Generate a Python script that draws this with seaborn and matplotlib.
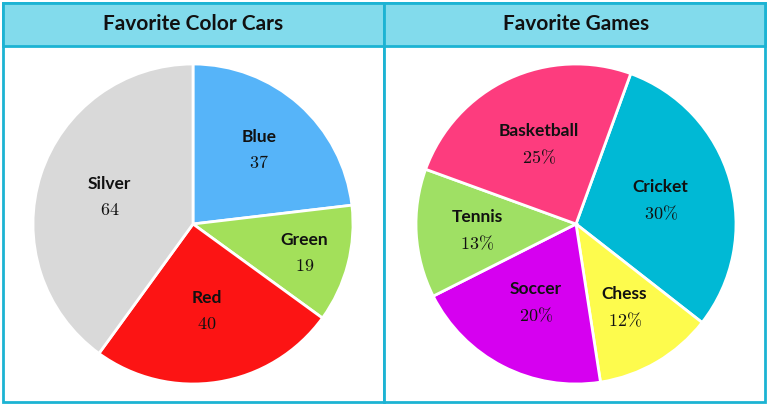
import matplotlib
matplotlib.use("Agg")
import matplotlib.pyplot as plt
import seaborn as sns
import numpy as np
from matplotlib.patches import Rectangle

sns.set_theme(style="white")
plt.rcParams['font.family'] = ['Lato', 'DejaVu Sans']
plt.rcParams['mathtext.fontset'] = 'cm'

car_labels = ["Blue", "Green", "Red", "Silver"]
car_values = [37, 19, 40, 64]
car_colors = ["#56b4f9", "#a3e05a", "#fc1414", "#d9d9d9"]

game_labels = ["Cricket", "Chess", "Soccer", "Tennis", "Basketball"]
game_values = [30, 12, 20, 13, 25]
game_colors = ["#00b9d5", "#fdfb4d", "#d600f0", "#9fe064", "#fd3c7e"]

W, H = 768, 405
fig = plt.figure(figsize=(W/100, H/100), dpi=100)
fig.patch.set_facecolor("white")

border = "#1cb3d3"
header = "#82dbec"
for x0 in (3, 384):
    fig.add_artist(Rectangle((x0/W, 3/H), 381/W, 399/H, transform=fig.transFigure,
                             facecolor="white", edgecolor=border, lw=2, zorder=-2))
    fig.add_artist(Rectangle((x0/W, (H-46)/H), 381/W, 43/H, transform=fig.transFigure,
                             facecolor=header, edgecolor=border, lw=2, zorder=-1))
fig.text(193/W, (H-24)/H, "Favorite Color Cars", ha="center", va="center",
         fontsize=15, fontweight="bold", color="#111111")
fig.text(576/W, (H-24)/H, "Favorite Games", ha="center", va="center",
         fontsize=15, fontweight="bold", color="#111111")

def draw_pie(cx, cy, r, labels, values, colors, start, suffix, dist):
    ax = fig.add_axes([(cx-r)/W, (H-cy-r)/H, 2*r/W, 2*r/H])
    ax.set_zorder(5)
    ax.patch.set_alpha(0)
    wedges, _ = ax.pie(values, colors=colors, startangle=start, counterclock=False,
                       wedgeprops=dict(edgecolor="white", linewidth=2))
    ax.set_xlim(-1, 1); ax.set_ylim(-1, 1); ax.set_aspect("equal"); ax.axis("off")
    for w, lab, v, d in zip(wedges, labels, values, dist):
        a = np.deg2rad((w.theta1 + w.theta2) / 2)
        x, y = d*np.cos(a), d*np.sin(a)
        ax.text(x, y+0.08, lab, ha="center", va="center", fontsize=12.5, fontweight="bold", color="#111111")
        ax.text(x, y-0.08, f"${v}{suffix}$", ha="center", va="center", fontsize=13, color="#111111")

draw_pie(193, 224, 160, car_labels, car_values, car_colors, 90, "", [0.62, 0.72, 0.55, 0.55])
draw_pie(576, 224, 160, game_labels, game_values, game_colors, 70, r"\%", [0.55, 0.6, 0.55, 0.62, 0.55])

fig.savefig("out.png", dpi=100)
